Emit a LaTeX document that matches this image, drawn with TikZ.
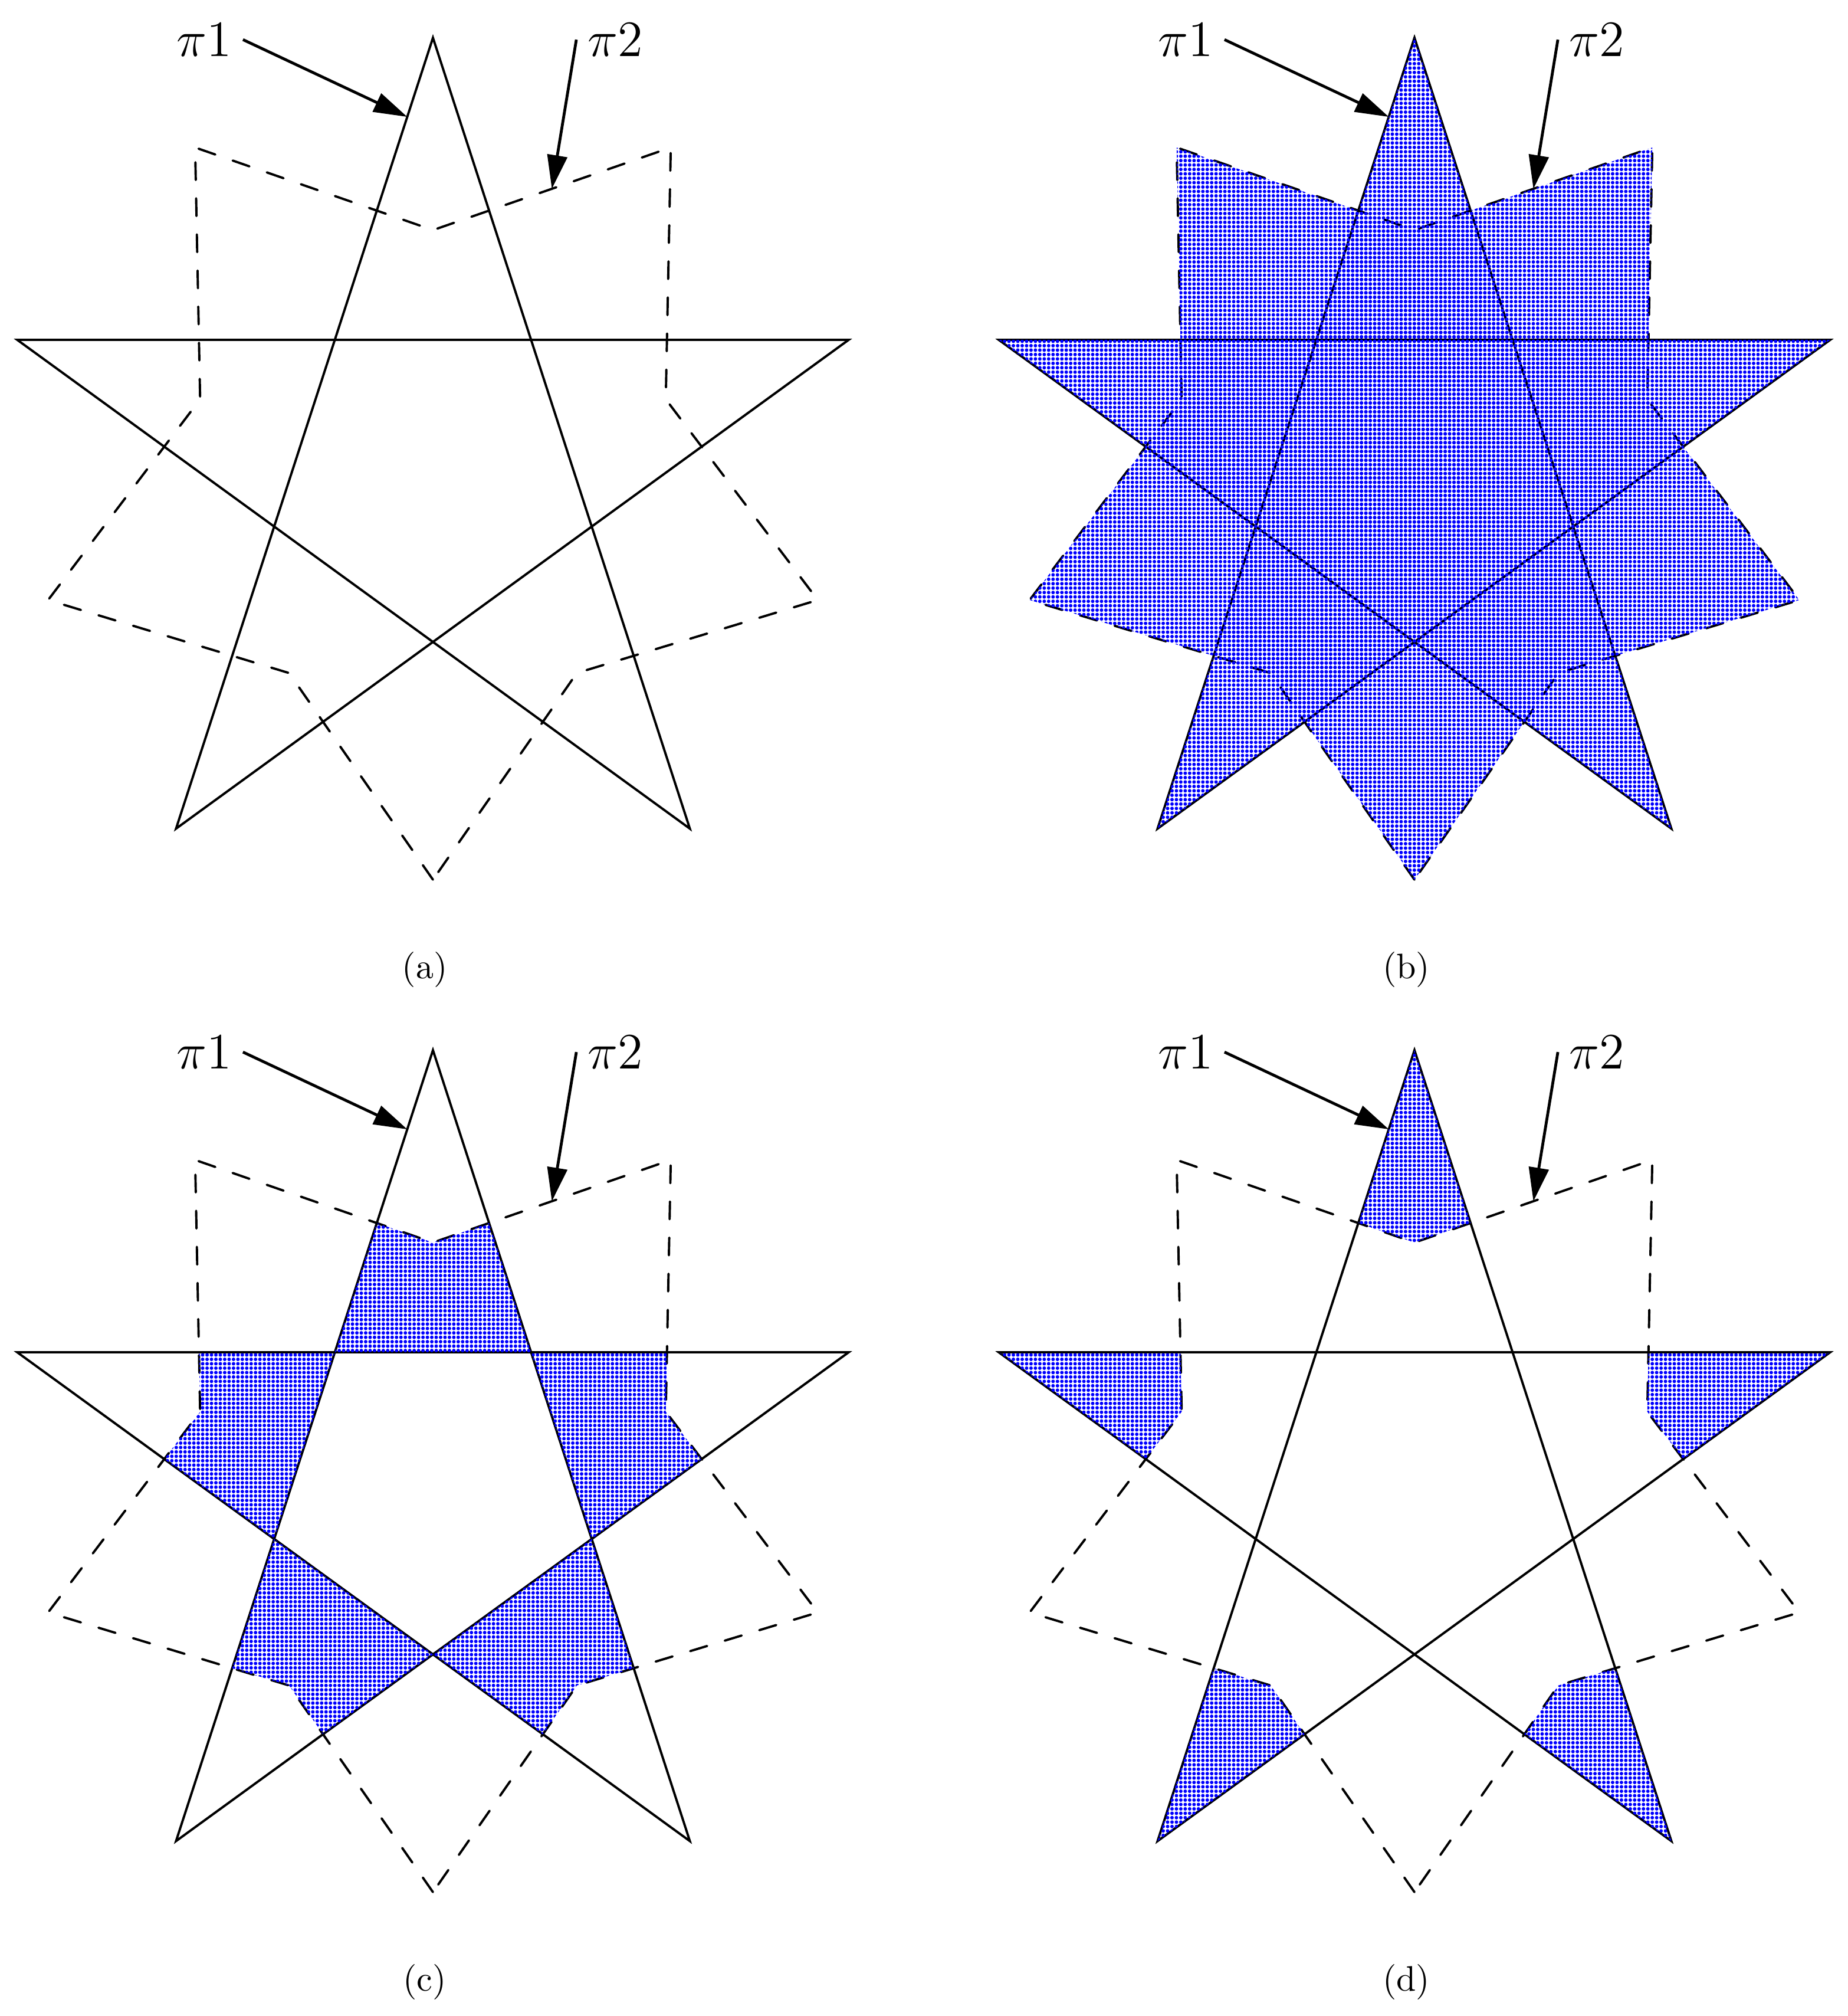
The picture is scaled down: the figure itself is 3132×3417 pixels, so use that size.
\documentclass[tikz,border=0pt]{standalone}
\usetikzlibrary{calc,arrows.meta,patterns}

% blue dot screen used for the filled regions
\pgfdeclarepatternformonly{bluedots}{\pgfqpoint{-0.6pt}{-0.6pt}}{\pgfqpoint{0.6pt}{0.6pt}}{\pgfqpoint{1.245pt}{1.245pt}}{%
  \pgfpathcircle{\pgfqpoint{0pt}{0pt}}{0.5pt}%
  \pgfusepath{fill}}

\newcommand{\pathone}{(a0) -- (a2) -- (a4) -- (a1) -- (a3) -- cycle}
\newcommand{\pathtwo}{(b0) -- (n2) -- (b4) -- (n1) -- (b3) -- (n0) -- (b2) -- (n4) -- (b1) -- (n3) -- cycle}

% one panel: outlines, fill (#2), labels and caption (#1)
\newcommand{\starpanel}[2]{%
  \coordinate (c) at (734,-805);
  \foreach \i in {0,...,4} {
    \coordinate (a\i) at ($(c)+(90+72*\i:741)$);
    \coordinate (b\i) at ($(c)+(-90+72*\i:686)$);
    \coordinate (n\i) at ($(c)+(90+72*\i:415)$);
  }
  \draw[poly1] \pathone;
  \draw[poly2] \pathtwo;
  #2
  \node at (346,-95) (pione#1) [lbl,anchor=base] {$\pi1$};
  \node at (1043,-95) (pitwo#1) [lbl,anchor=base] {$\pi2$};
  \coordinate (tipone#1) at ($(a0)!0.1!(a2)$);
  \coordinate (tiptwo#1) at ($(n0)!0.5!(b2)$);
  \draw[pointer] (pione#1.east) to (tipone#1);
  \draw[pointer] (pitwo#1.west) to (tiptwo#1);
  \node at (720,-1643) (cap#1) [capt] {(#1)};
}

\begin{document}
\begin{tikzpicture}[x=0.16667pt,y=0.16667pt]
	\tikzstyle{poly1}=[line width=0.65pt];
	\tikzstyle{poly2}=[line width=0.65pt,dash pattern=on 5pt off 5.2pt,line cap=round];
	\tikzstyle{hatch}=[pattern=bluedots,pattern color=blue];
	\tikzstyle{pointer}=[-{Triangle[length=9.5pt,width=5.6pt]},line width=0.8pt];
	\tikzstyle{lbl}=[font=\Large,inner sep=3pt];
	\tikzstyle{capt}=[font=\normalsize];

	\useasboundingbox (0,0) rectangle (3132,-3417);

	% (a) the two polygons
	\begin{scope}
		\starpanel{a}{}
	\end{scope}

	% (b) union
	\begin{scope}[shift={(1664,0)}]
		\starpanel{b}{\fill[hatch] \pathone; \fill[hatch] \pathtwo;}
	\end{scope}

	% (c) intersection
	\begin{scope}[shift={(0,-1716)}]
		\starpanel{c}{\begin{scope} \clip \pathtwo; \fill[hatch,even odd rule] \pathone; \end{scope}}
	\end{scope}

	% (d) difference
	\begin{scope}[shift={(1664,-1716)}]
		\starpanel{d}{\begin{scope} \clip (-50,50) -- (-50,-1560) -- (1500,-1560) -- (1500,50) -- cycle \pathtwo; \fill[hatch,even odd rule] \pathone; \end{scope}}
	\end{scope}
\end{tikzpicture}
\end{document}
